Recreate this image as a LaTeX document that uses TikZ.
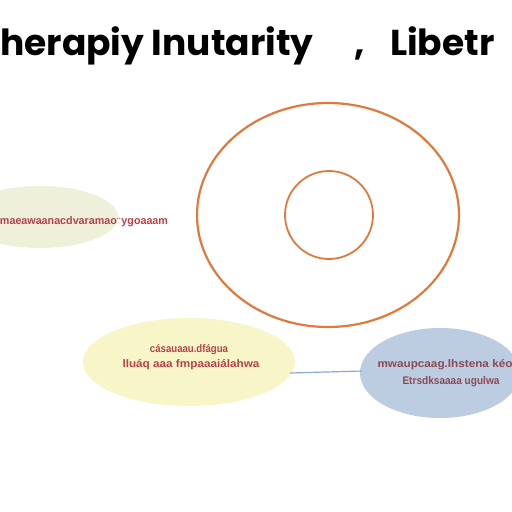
\documentclass[tikz,border=0pt]{standalone}
\usepackage{fontspec}
\setmainfont{Liberation Sans}
\newfontfamily\titlefont{Poppins}
\definecolor{ringorange}{HTML}{E07A3C}
\definecolor{txtred}{HTML}{B8424A}
\definecolor{txtdark}{HTML}{8A4A55}
\definecolor{greenfill}{HTML}{EEF0DA}
\definecolor{yellowfill}{HTML}{F8F6C8}
\definecolor{bluefill}{HTML}{BCCDE2}
\definecolor{linkblue}{HTML}{8FAACB}
\newcommand{\gibtext}[3]{\resizebox{#1pt}{#2pt}{#3}}
\begin{document}
\begin{tikzpicture}[x=1pt,y=-1pt,
  ring/.style={draw=ringorange,line width=2.2pt},
  titletxt/.style={inner sep=0pt,anchor=base west,font=\titlefont\bfseries\fontsize{36}{36}\selectfont},
  gib/.style={inner sep=0pt,anchor=base,font=\bfseries\fontsize{9}{10}\selectfont,text=txtred}
]
\useasboundingbox (0,0) rectangle (512,512);
\clip (0,0) rectangle (512,512);
\fill[white] (0,0) rectangle (512,512);
% title
\node[titletxt] (t1) at (0,55) {herapiy Inutarity};
\node[titletxt] (t2) at (354,55) {,};
\node[titletxt] (t3) at (390,55) {Libetr};
% rings
\draw[ring] (328,215) ellipse [x radius=131, y radius=112];
\draw[ring,line width=1.8pt] (329,215) circle [radius=44];
% left blob
\fill[greenfill] (40,217) ellipse [x radius=78, y radius=31];
\node[gib] (l) at (84,224) {\gibtext{168}{8}{maeawaanacdvaramao\textsuperscript{..}ygoaaam}};
% connector
\coordinate (ca) at (290,373);
\coordinate (cb) at (362,371);
% bottom left blob
\fill[yellowfill] (189,362) ellipse [x radius=106, y radius=44];
\node[gib] (m1) at (189,352) {\gibtext{78}{8}{cásauaau.dfágua}};
\node[gib] (m2) at (191,367) {\gibtext{137}{8}{lluáq aaa fmpaaaiálahwa}};
% right blob
\fill[bluefill] (440,373) ellipse [x radius=80, y radius=45];
\node[gib,text=txtdark] (r1) at (445,367) {\gibtext{135}{8}{mwaupcaag.lhstena kéo}};
\node[gib,text=txtdark] (r2) at (451,384) {\gibtext{97}{8}{Etrsdksaaaa ugulwa}};
\draw[linkblue,line width=1.2pt] (ca) -- (cb);
\end{tikzpicture}
\end{document}
